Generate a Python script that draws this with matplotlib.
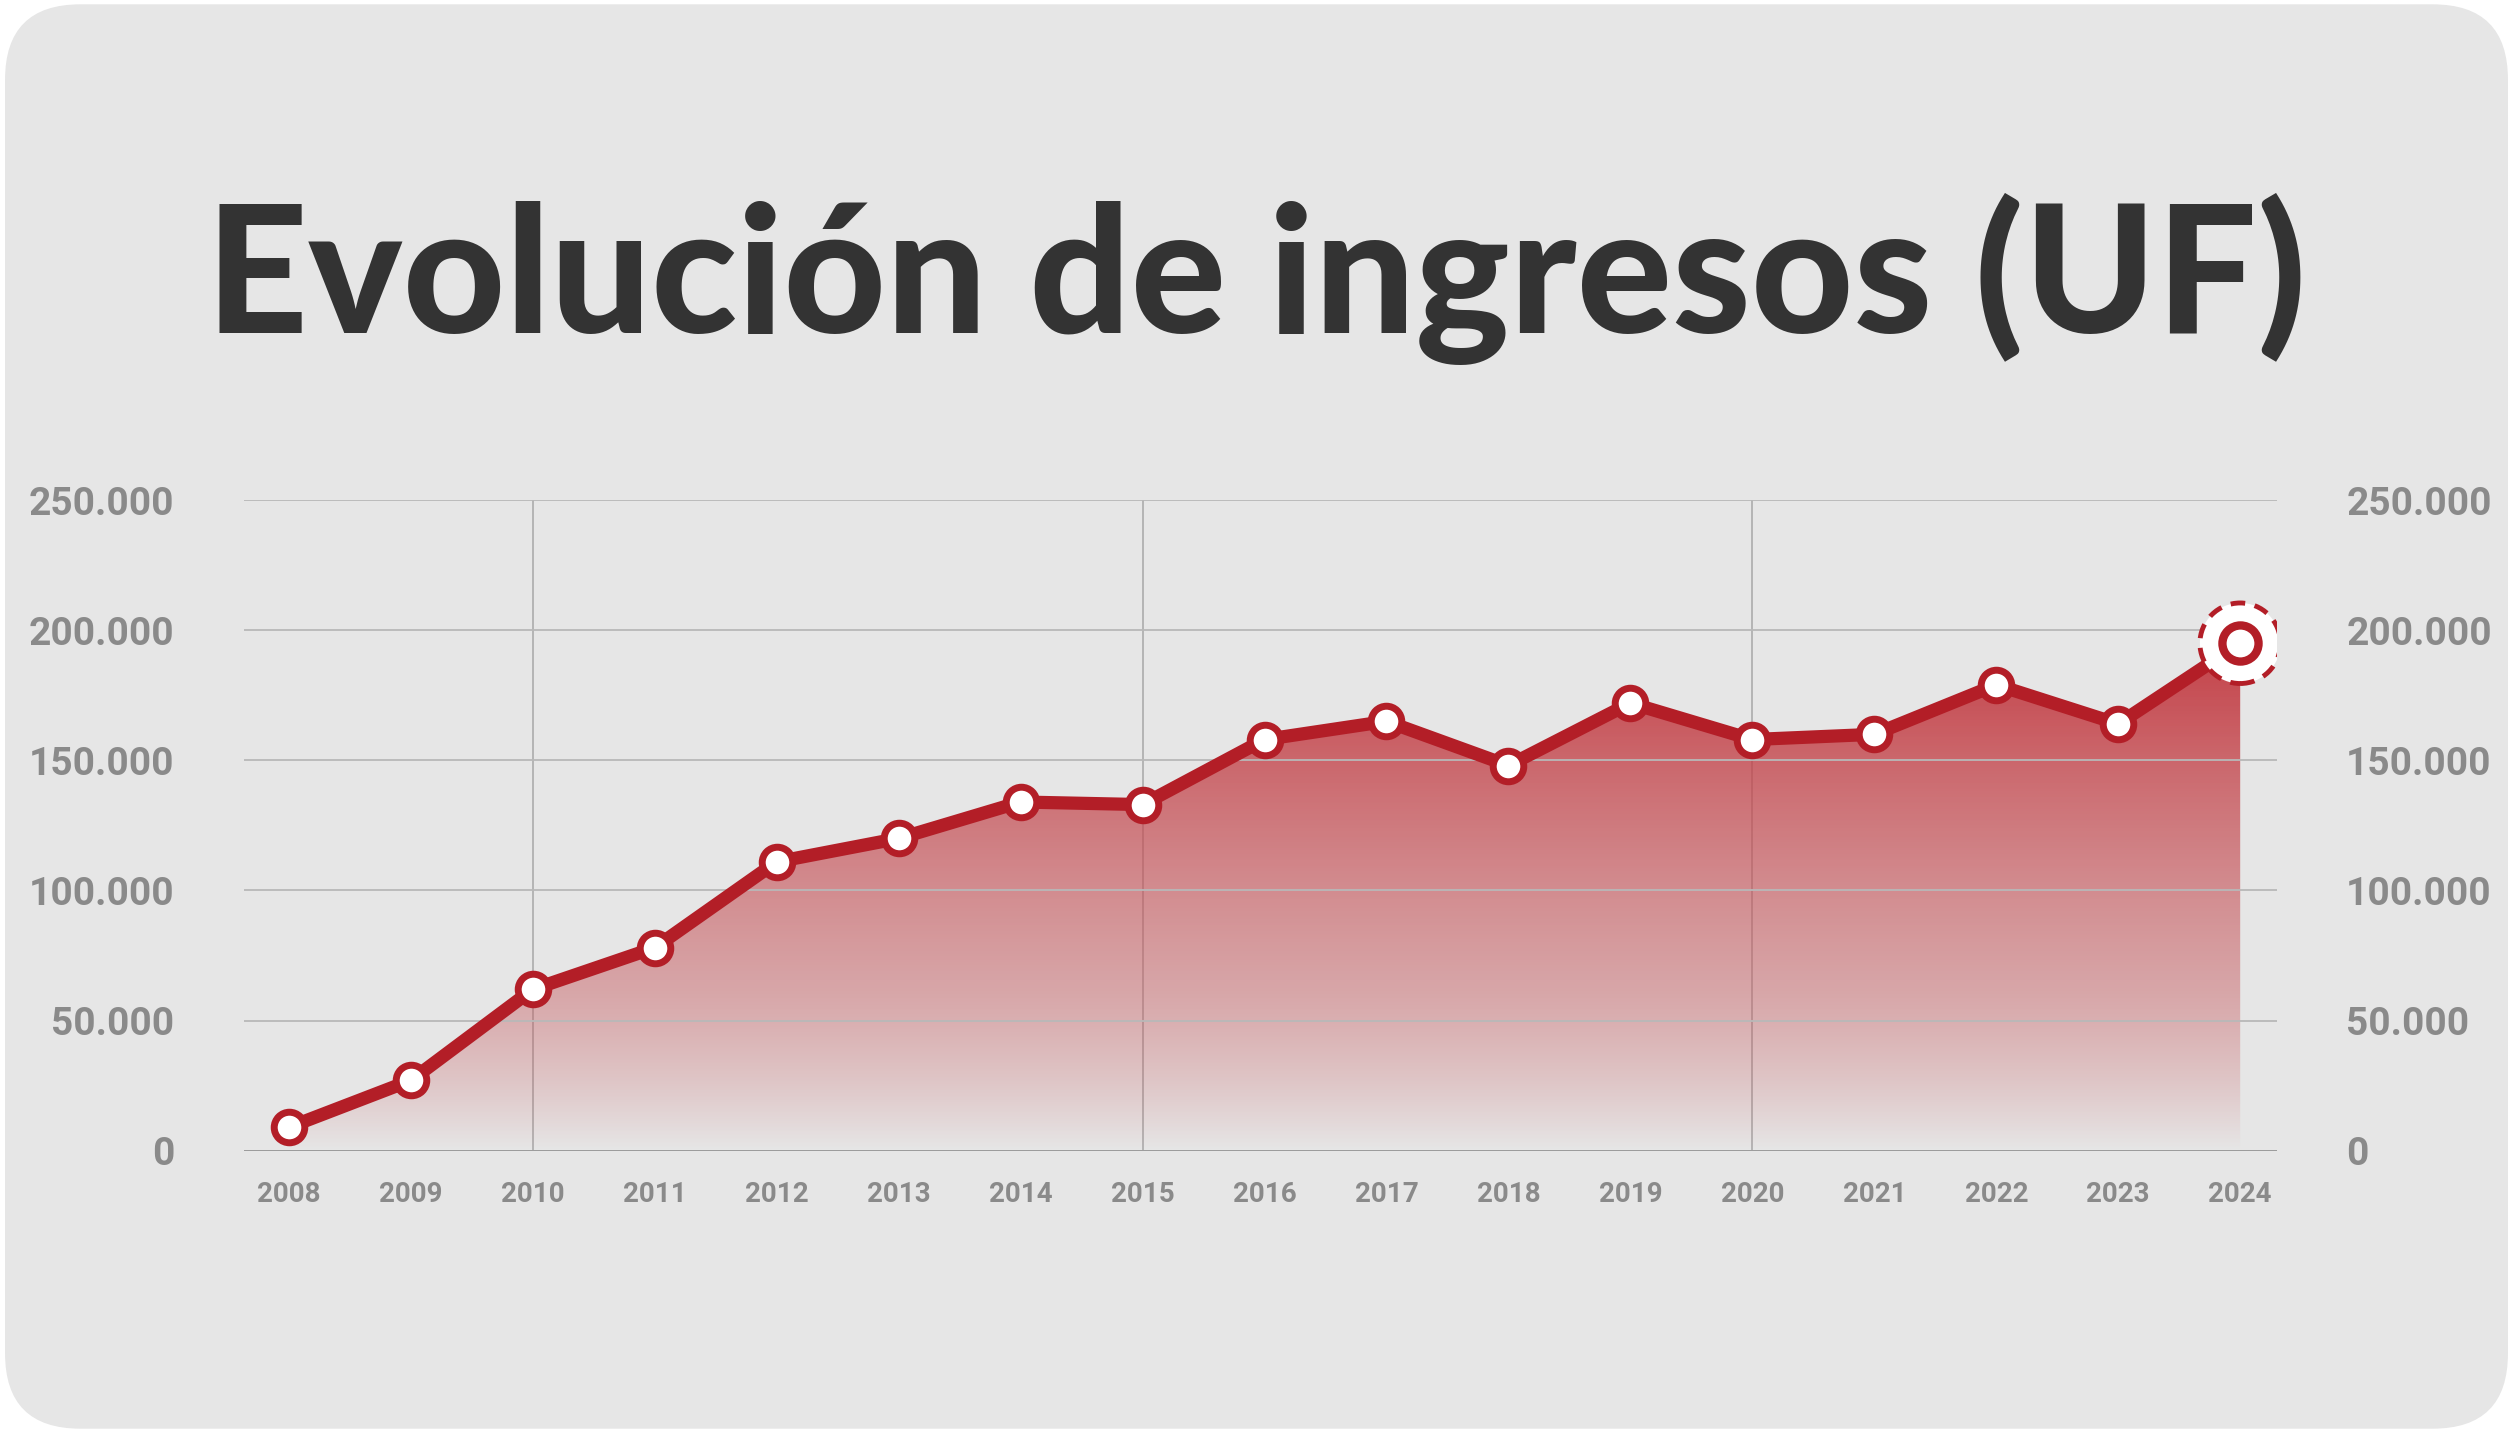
import matplotlib
matplotlib.use("Agg")
import matplotlib.pyplot as plt
import numpy as np
from matplotlib.patches import FancyBboxPatch, Polygon
from matplotlib.colors import LinearSegmentedColormap

years = [2008, 2009, 2010, 2011, 2012, 2013, 2014, 2015, 2016, 2017, 2018, 2019, 2020, 2021, 2022, 2023, 2024]
ingresos = [9000, 27000, 62000, 78000, 111000, 120000, 134000, 133000, 158000, 165000, 148000, 172000, 158000, 160000, 179000, 164000, 195000]
yticks = [0, 50000, 100000, 150000, 200000, 250000]
ytick_labels = ["0", "50.000", "100.000", "150.000", "200.000", "250.000"]
title = "Evolución de ingresos (UF)"

RED = "#b31e27"
fig = plt.figure(figsize=(25.13, 14.33), dpi=100)
fig.patch.set_facecolor("white")
bg = FancyBboxPatch((0.002, 0.003), 0.996, 0.994, boxstyle="round,pad=0,rounding_size=0.03",
                    transform=fig.transFigure, facecolor="#e6e6e6", edgecolor="none",
                    mutation_aspect=25.13/14.33, zorder=-10)
fig.patches.append(bg)

fig.text(0.5, 0.805, title, ha="center", va="center", fontsize=128, fontweight="black",
         color="#333333", family="Lato")

ax = fig.add_axes([0.097, 0.197, 0.809, 0.454])
ax.set_facecolor("none")
ax.set_xlim(2008 - 0.37, 2024 + 0.3)

cmap = LinearSegmentedColormap.from_list("g", [(0, (0.75, 0.2, 0.22, 0.0)), (0.3, (0.78, 0.35, 0.37, 0.45)), (1, (0.76, 0.2, 0.23, 0.95))])
grad = np.linspace(0, 1, 256).reshape(-1, 1)
im = ax.imshow(grad, aspect="auto", cmap=cmap, origin="lower",
               extent=[2008, 2024, 0, 200000], zorder=1)
poly = Polygon(list(zip(years, ingresos)) + [(2024, 0), (2008, 0)], closed=True,
               transform=ax.transData, facecolor="none", edgecolor="none")
ax.add_patch(poly)
im.set_clip_path(poly)
ax.set_xlim(2008 - 0.37, 2024 + 0.3)
ax.set_ylim(0, 250000)

ax.grid(axis="y", color="#b8b8b8", lw=1.3)
for x in [2010, 2015, 2020]:
    ax.axvline(x, color="#b0b0b0", lw=1.3, zorder=0)
ax.axhline(0, color="#999999", lw=2, zorder=2)

ax.plot(years, ingresos, color=RED, lw=9.5, zorder=3, solid_joinstyle="round")
ax.plot(years[:-1], ingresos[:-1], "o", ms=22, mfc="white", mec=RED, mew=5, zorder=4)
ax.scatter([years[-1]], [ingresos[-1]], s=58**2, facecolor="white", edgecolor=RED,
           linewidths=3.5, linestyle=(0, (3, 2)), zorder=5)
ax.plot(years[-1], ingresos[-1], "o", ms=26, mfc="white", mec=RED, mew=6, zorder=6)

for s in ax.spines.values():
    s.set_visible(False)
ax.set_yticks(yticks)
ax.set_yticklabels(ytick_labels)
ax.set_xticks(years)
ax.set_xticklabels([str(y) for y in years])
ax.tick_params(axis="y", length=0, pad=50, labelsize=28, labelcolor="#8a8a8a",
               labelright=True, right=False)
ax.tick_params(axis="x", length=0, pad=22, labelsize=20, labelcolor="#8a8a8a")
for t in ax.yaxis.get_major_ticks():
    for lab in (t.label1, t.label2):
        lab.set_fontweight("bold"); lab.set_family("Roboto")
for lab in ax.get_xticklabels():
    lab.set_fontweight("bold"); lab.set_family("Roboto")
fig.savefig("out.png", dpi=100, facecolor="white")
